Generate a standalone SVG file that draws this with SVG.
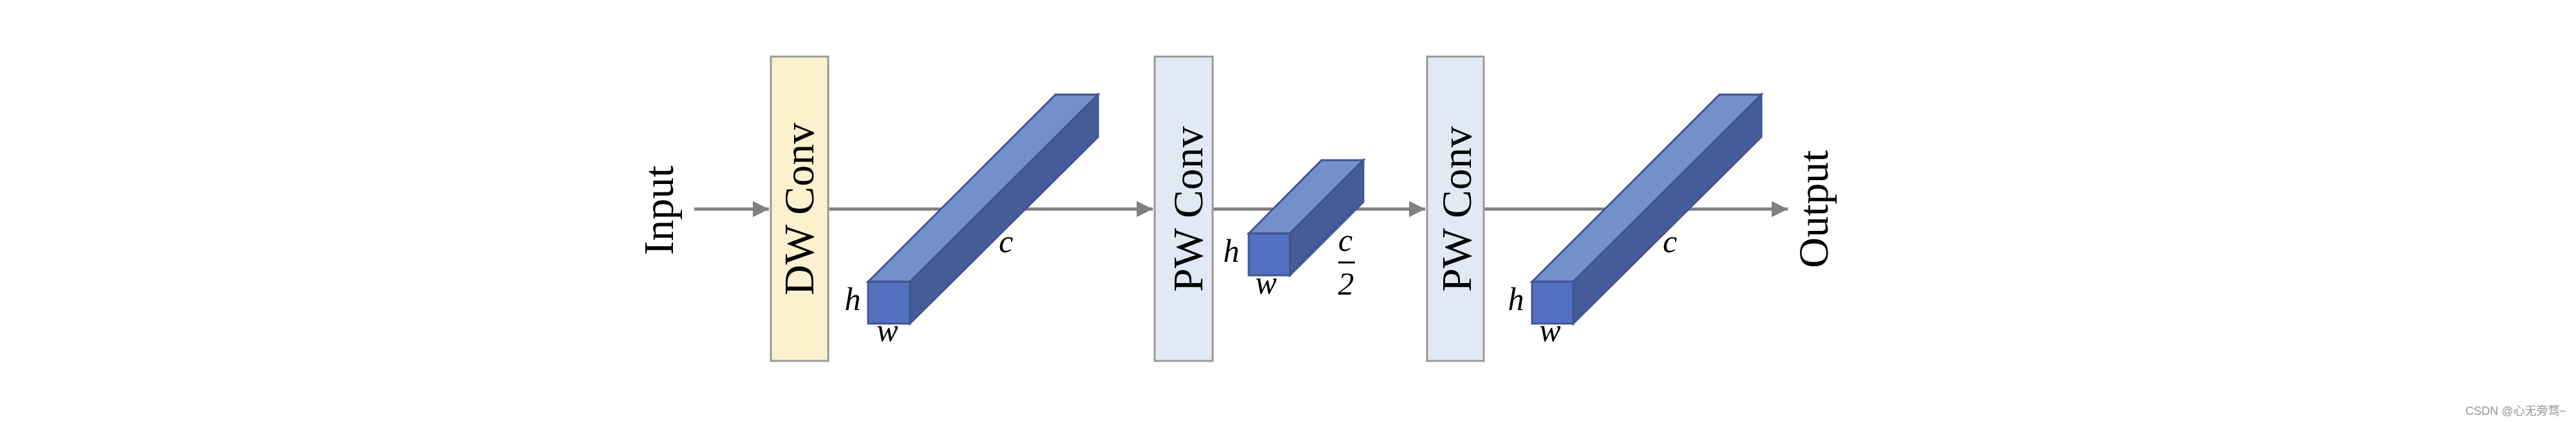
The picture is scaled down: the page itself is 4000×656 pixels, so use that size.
<svg xmlns="http://www.w3.org/2000/svg" width="4000" height="656" viewBox="0 0 4000 656">
<style>
.lbl{font-family:"Liberation Serif","DejaVu Serif",serif;font-size:66px;fill:#000}
.var{font-family:"Liberation Serif","DejaVu Serif",serif;font-size:50px;font-style:italic;fill:#000}
.box{stroke:#999;stroke-width:3}
.front{fill:#5470C0;stroke:#3F5593;stroke-width:3}
.top{fill:#7490CC;stroke:#3F5593;stroke-width:3}
.side{fill:#465C9A;stroke:#3F5593;stroke-width:3}
.conn{stroke:#808080;stroke-width:5;fill:none}
</style>
<defs>
<marker id="ah" markerWidth="6" markerHeight="6" refX="5" refY="2.5" orient="auto" markerUnits="strokeWidth">
<path d="M0,0 L5,2.5 L0,5 Z" fill="#808080"/>
</marker>
</defs>
<rect width="4000" height="656" fill="#fff"/>
<g id="connectors">
<line class="conn" x1="1078" y1="325" x2="1194" y2="325" marker-end="url(#ah)"/>
<line class="conn" x1="1286" y1="325" x2="1790" y2="325" marker-end="url(#ah)"/>
<line class="conn" x1="1883" y1="325" x2="2213" y2="325" marker-end="url(#ah)"/>
<line class="conn" x1="2304" y1="325" x2="2776" y2="325" marker-end="url(#ah)"/>
</g>
<g id="input"><text class="lbl" transform="translate(1045,327) rotate(-90)" text-anchor="middle">Input</text></g>
<g id="dwconv">
<rect class="box" x="1197" y="88" width="89" height="473" fill="#FBF1CC"/>
<text class="lbl" transform="translate(1263,325) rotate(-90)" text-anchor="middle">DW Conv</text>
</g>
<g id="tensor1">
<polygon class="top" points="1348,438 1639,147 1705,147 1413,438"/>
<polygon class="side" points="1413,438 1705,147 1705,213 1413,503"/>
<rect class="front" x="1348" y="438" width="65" height="65"/>
<text class="var" x="1324" y="482" text-anchor="middle">h</text>
<text class="var" x="1378" y="530" text-anchor="middle">w</text>
<text class="var" x="1562" y="392" text-anchor="middle">c</text>
</g>
<g id="pwconv1">
<rect class="box" x="1793" y="88" width="90" height="473" fill="#E1E9F5"/>
<text class="lbl" transform="translate(1867,325) rotate(-90)" text-anchor="middle">PW Conv</text>
</g>
<g id="tensor2">
<polygon class="top" points="1939,363 2052,249 2117,249 2003,363"/>
<polygon class="side" points="2003,363 2117,249 2117,314 2003,428"/>
<rect class="front" x="1939" y="363" width="64" height="65"/>
<text class="var" x="1912" y="407" text-anchor="middle">h</text>
<text class="var" x="1966" y="456" text-anchor="middle">w</text>
<text class="var" x="2089" y="390" text-anchor="middle">c</text>
<line x1="2078" y1="408" x2="2104" y2="408" stroke="#000" stroke-width="3"/>
<text class="var" x="2090" y="458" text-anchor="middle" font-style="normal">2</text>
</g>
<g id="pwconv2">
<rect class="box" x="2216" y="88" width="88" height="473" fill="#E1E9F5"/>
<text class="lbl" transform="translate(2284,325) rotate(-90)" text-anchor="middle">PW Conv</text>
</g>
<g id="tensor3">
<polygon class="top" points="2379,438 2670,147 2735,147 2443,438"/>
<polygon class="side" points="2443,438 2735,147 2735,213 2443,503"/>
<rect class="front" x="2379" y="438" width="64" height="65"/>
<text class="var" x="2354" y="482" text-anchor="middle">h</text>
<text class="var" x="2407" y="530" text-anchor="middle">w</text>
<text class="var" x="2593" y="392" text-anchor="middle">c</text>
</g>
<g id="output"><text class="lbl" transform="translate(2838,325) rotate(-90)" text-anchor="middle">Output</text></g>
<text x="3985" y="645" text-anchor="end" font-family="'Liberation Sans','Noto Sans CJK SC',sans-serif" font-size="18" fill="#999">CSDN @心无旁骛~</text>
</svg>
